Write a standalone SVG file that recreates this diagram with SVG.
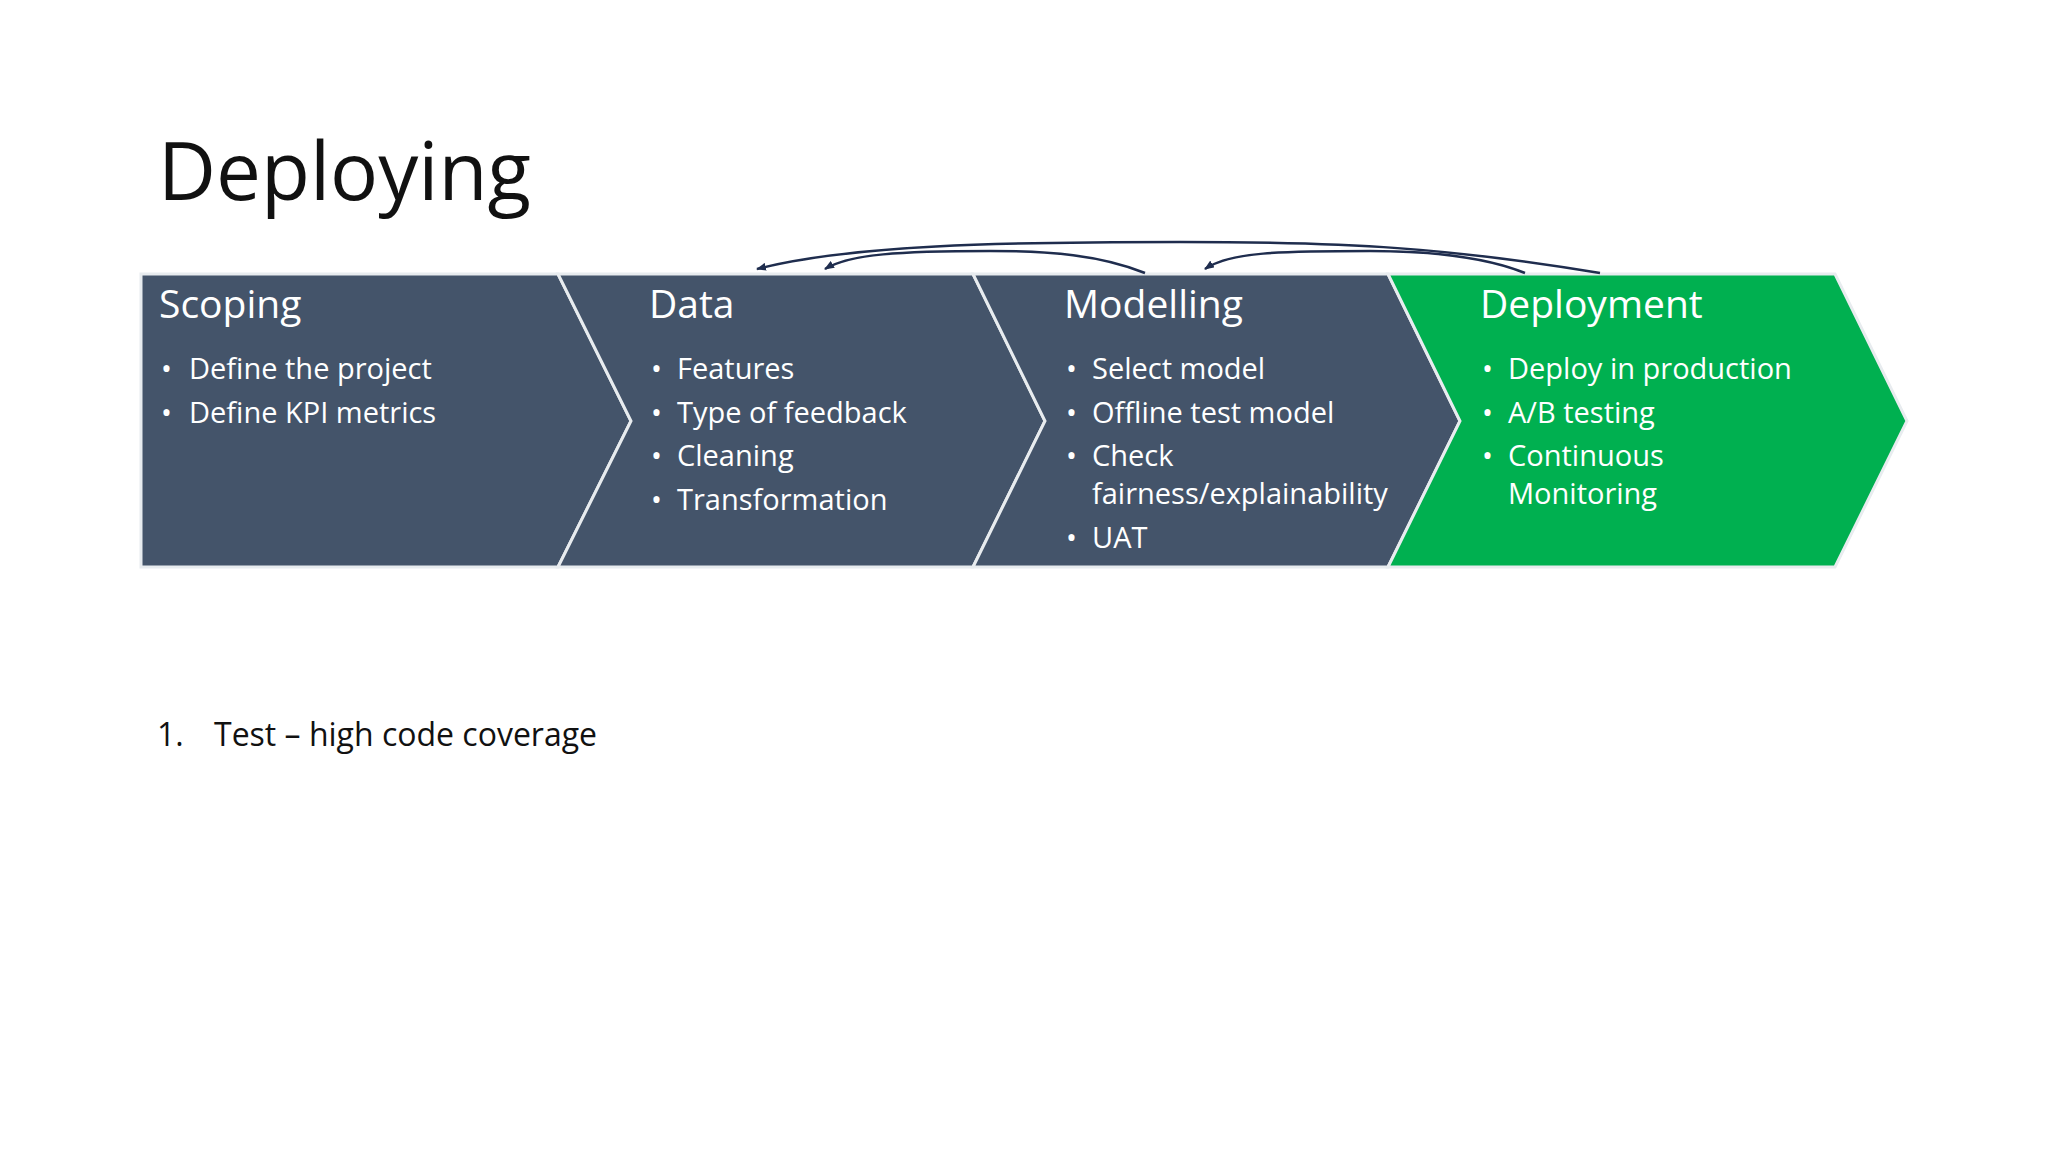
<svg xmlns="http://www.w3.org/2000/svg" width="2048" height="1152" viewBox="0 0 2048 1152">
<defs>
<marker id="ah" markerWidth="10" markerHeight="8" refX="9" refY="4" orient="auto" markerUnits="userSpaceOnUse"><path d="M0,0 L10,4 L0,8 z" fill="#1f2d4e"/></marker>
<style>
.s{fill:#44546a;stroke:#e8ecef;stroke-width:3}
.g{fill:#00b050;stroke:#e8ecef;stroke-width:3}
.h{font-family:"Open Sans","Liberation Sans",sans-serif;font-size:39px;fill:#fff}
.b{font-family:"Open Sans","Liberation Sans",sans-serif;font-size:29px;fill:#fff}
.c{fill:none;stroke:#1f2d4e;stroke-width:2.5}
</style>
</defs>
<rect width="2048" height="1152" fill="#fff"/>
<text x="158" y="200" font-family="Open Sans,Liberation Sans,sans-serif" font-size="80" fill="#111">Deploying</text>
<g id="scoping"><path class="s" d="M141,274 H558 L631,421 L558,567 H141 Z"/>
<text class="h" x="159" y="318">Scoping</text>
<text class="b" x="161" y="379">•</text><text class="b" x="189" y="379">Define the project</text>
<text class="b" x="161" y="423">•</text><text class="b" x="189" y="423">Define KPI metrics</text></g>
<g id="data"><path class="s" d="M558,274 H973 L1045,421 L973,567 H558 L631,421 Z"/>
<text class="h" x="649" y="318">Data</text>
<text class="b" x="651" y="379">•</text><text class="b" x="677" y="379">Features</text>
<text class="b" x="651" y="423">•</text><text class="b" x="677" y="423">Type of feedback</text>
<text class="b" x="651" y="466">•</text><text class="b" x="677" y="466">Cleaning</text>
<text class="b" x="651" y="510">•</text><text class="b" x="677" y="510">Transformation</text></g>
<g id="modelling"><path class="s" d="M973,274 H1388 L1460,421 L1388,567 H973 L1045,421 Z"/>
<text class="h" x="1064" y="318">Modelling</text>
<text class="b" x="1066" y="379">•</text><text class="b" x="1092" y="379">Select model</text>
<text class="b" x="1066" y="423">•</text><text class="b" x="1092" y="423">Offline test model</text>
<text class="b" x="1066" y="466">•</text><text class="b" x="1092" y="466">Check</text>
<text class="b" x="1092" y="504">fairness/explainability</text>
<text class="b" x="1066" y="548">•</text><text class="b" x="1092" y="548">UAT</text></g>
<g id="deployment"><path class="g" d="M1388,274 H1835 L1907,421 L1835,567 H1388 L1460,421 Z"/>
<text class="h" x="1480" y="318">Deployment</text>
<text class="b" x="1482" y="379">•</text><text class="b" x="1508" y="379">Deploy in production</text>
<text class="b" x="1482" y="423">•</text><text class="b" x="1508" y="423">A/B testing</text>
<text class="b" x="1482" y="466">•</text><text class="b" x="1508" y="466">Continuous</text>
<text class="b" x="1508" y="504">Monitoring</text></g>
<g id="connectors">
<path class="c" marker-end="url(#ah)" d="M1600,273 C1450,248 1350,242 1180,242 C1000,242 850,245 757,269"/>
<path class="c" marker-end="url(#ah)" d="M1525,273 C1480,255 1420,251 1370,251 C1280,251 1230,252 1205,269"/>
<path class="c" marker-end="url(#ah)" d="M1145,273 C1100,255 1050,251 990,251 C900,251 850,254 825,269"/>
</g>
<g id="note">
<text x="157" y="746" font-family="Open Sans,Liberation Sans,sans-serif" font-size="32" fill="#111">1.</text>
<text x="214" y="746" font-family="Open Sans,Liberation Sans,sans-serif" font-size="32" fill="#111">Test – high code coverage</text></g>
</svg>
